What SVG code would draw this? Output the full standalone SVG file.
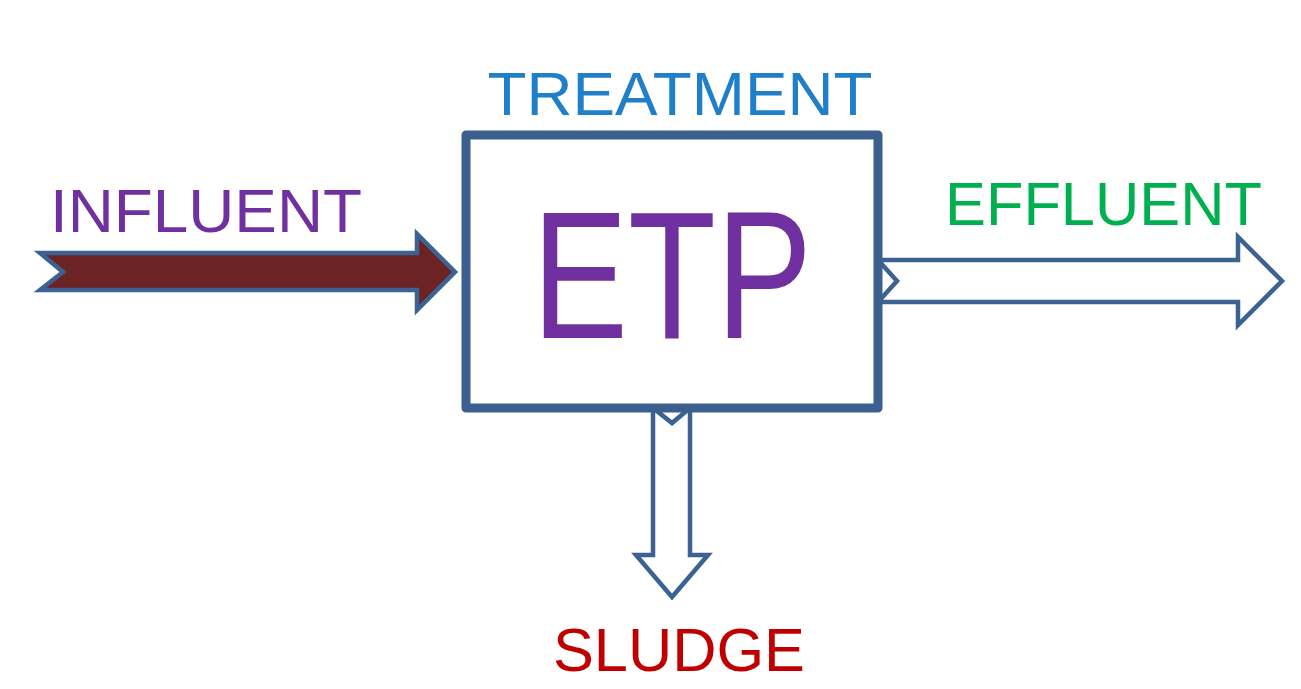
<svg xmlns="http://www.w3.org/2000/svg" width="1301" height="689" viewBox="0 0 1301 689">
<style>
.t{font-family:"Liberation Sans","Open Sans",sans-serif;}
.arrow{stroke:#3b6292;stroke-width:4.5;stroke-linejoin:miter}
</style>
<rect width="1301" height="689" fill="#fff"/>
<g id="connectors">
<path id="influent-arrow" class="arrow" fill="#6b2323" d="M40,253 L417,253 L417,234 L455,272 L417,310 L417,290 L40,290 L63,272 Z"/>
<path id="effluent-arrow" class="arrow" fill="#fff" d="M878,260 L1238,260 L1238,237 L1282,281 L1238,325 L1238,302 L878,302 L897,281 Z"/>
<path id="sludge-arrow" class="arrow" fill="#fff" d="M653,408 L653,555 L636,555 L672,597 L708,555 L690,555 L690,408 L672,423 Z"/>
</g>
<g id="etp">
<rect x="466" y="135" width="412" height="273" fill="#fff" stroke="#3b5f8e" stroke-width="9" stroke-linejoin="round"/>
<text class="t" x="672" y="338" text-anchor="middle" font-size="182" fill="#7030a0" textLength="280" lengthAdjust="spacingAndGlyphs">ETP</text>
</g>
<g id="treatment"><text class="t" x="680" y="115" text-anchor="middle" font-size="62" fill="#1f7fc8" textLength="385" lengthAdjust="spacingAndGlyphs">TREATMENT</text></g>
<g id="influent"><text class="t" x="50" y="232" font-size="62" fill="#7030a0" textLength="312" lengthAdjust="spacingAndGlyphs">INFLUENT</text></g>
<g id="effluent"><text class="t" x="945" y="225" font-size="62" fill="#00b050" textLength="317" lengthAdjust="spacingAndGlyphs">EFFLUENT</text></g>
<g id="sludge"><text class="t" x="553" y="671" font-size="62" fill="#c00000" textLength="252" lengthAdjust="spacingAndGlyphs">SLUDGE</text></g>
</svg>
